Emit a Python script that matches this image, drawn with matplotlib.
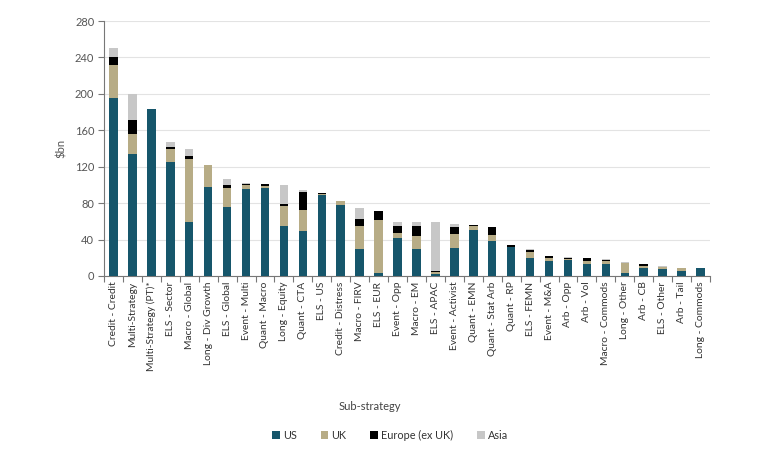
import matplotlib
matplotlib.use("Agg")
import matplotlib.pyplot as plt
import numpy as np
from matplotlib.ticker import FixedLocator, NullFormatter
from matplotlib.patches import Patch

categories = ["Credit - Credit", "Multi-Strategy", "Multi-Strategy (PT)*", "ELS - Sector",
              "Macro - Global", "Long - Div Growth", "ELS - Global", "Event - Multi",
              "Quant - Macro", "Long - Equity", "Quant - CTA", "ELS - US",
              "Credit - Distress", "Macro - FIRV", "ELS - EUR", "Event - Opp",
              "Macro - EM", "ELS - APAC", "Event - Activist", "Quant - EMN",
              "Quant - Stat Arb", "Quant - RP", "ELS - FEMN", "Event - M&A",
              "Arb - Opp", "Arb - Vol", "Macro - Commods", "Long - Other",
              "Arb - CB", "ELS - Other", "Arb - Tail", "Long - Commods"]

us = [195, 134.5, 183, 125, 59, 97.5, 75.5, 95, 97, 55, 49, 89,
      78, 30, 3, 42, 30, 2, 31, 50, 38, 32, 20, 16,
      18, 13, 13, 3, 9, 7.5, 5.5, 9]
uk = [37, 21.5, 0, 14, 70, 24, 21.5, 4.5, 1.5, 22, 23, 1,
      4, 25, 58, 5, 14, 2, 15, 5, 7, 0, 6, 4,
      0.5, 3, 4, 11.5, 2.5, 2.5, 3.5, 0]
europe = [9, 15, 0, 3, 3, 0, 3, 2, 3, 2, 20, 1,
          0, 7.5, 10, 8, 11, 1, 8, 1, 9, 1.5, 3, 2,
          1, 4, 1, 0, 2, 0, 0, 0]
asia = [9, 29, 0, 5, 8, 0, 6, 1, 0, 21, 2, 0.5,
        0, 12.5, 0.5, 4, 4, 54, 3, 0.5, 0, 0, 0.5, 0,
        1, 0, 1, 1, 0, 1, 0, 0]

series = [("US", us, "#16566B"), ("UK", uk, "#B7AC86"),
          ("Europe (ex UK)", europe, "#000000"), ("Asia", asia, "#C7C7C7")]

plt.rcParams['font.family'] = ['Lato', 'DejaVu Sans']

fig = plt.figure(figsize=(7.68, 4.58), dpi=100)
ax = fig.add_axes([104/768, 1 - 276/458, (710-104)/768, (276-21)/458])

x = np.arange(len(categories))
bottom = np.zeros(len(categories))
for name, vals, col in series:
    v = np.array(vals, dtype=float)
    ax.bar(x, v, bottom=bottom, width=0.45, color=col, label=name, zorder=3)
    bottom += v

ax.set_xlim(-0.5, len(categories) - 0.5)
ax.set_ylim(0, 280)
ax.set_yticks(np.arange(0, 281, 40))
ax.yaxis.grid(True, color="#E3E3E3", linewidth=0.8, zorder=0)
ax.set_xticks(x)
ax.set_xticklabels(categories, rotation=90, fontsize=7.4, color="#333333")
ax.tick_params(axis='x', which='major', length=0, pad=4)
ax.xaxis.set_minor_locator(FixedLocator(np.arange(-0.5, len(categories), 1.0)))
ax.xaxis.set_minor_formatter(NullFormatter())
ax.tick_params(axis='x', which='minor', length=4, color="#777777", width=0.8)
ax.tick_params(axis='y', length=4, color="#777777", width=0.8, labelsize=8,
               labelcolor="#555555", pad=3)

for s in ["top", "right"]:
    ax.spines[s].set_visible(False)
for s in ["left", "bottom"]:
    ax.spines[s].set_color("#777777")
    ax.spines[s].set_linewidth(0.8)

ax.set_ylabel("$bn", fontsize=8, color="#555555", labelpad=6)

fig.text(370/768, 1 - 407/458, "Sub-strategy", ha="center", va="center",
         fontsize=8, color="#444444")

handles = [Patch(facecolor=c, label=n) for n, _, c in series]
fig.legend(handles=handles, loc="center", bbox_to_anchor=(390/768, 1 - 435/458),
           ncol=4, frameon=False, fontsize=7.8, handlelength=0.7, handleheight=0.7,
           handletextpad=0.3, columnspacing=2.2, labelcolor="#333333")

fig.savefig("out.png", dpi=100)
